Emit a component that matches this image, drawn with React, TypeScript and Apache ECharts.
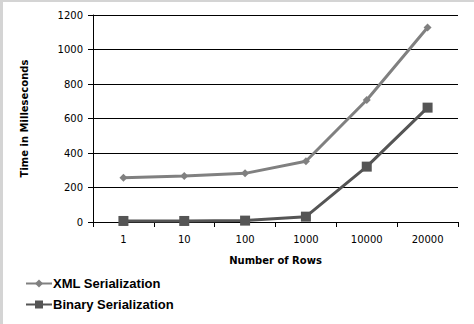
import React, { useEffect, useRef } from "react";
import * as echarts from "echarts";

const categories = ["1", "10", "100", "1000", "10000", "20000"];
const xmlValues = [257, 267, 282, 352, 707, 1128];
const binaryValues = [6, 6, 8, 31, 321, 663];
const yTicks = [0, 200, 400, 600, 800, 1000, 1200];

export default function App() {
  const ref = useRef<HTMLDivElement>(null);
  useEffect(() => {
    const chart = echarts.init(ref.current!, null, { renderer: "svg" });
    chart.setOption({
      animation: false,
      backgroundColor: "#ffffff",
      textStyle: { fontFamily: "DejaVu Sans" },
      graphic: [
        { type: "rect", left: 0, top: 0, shape: { width: 3, height: 324 }, style: { fill: "#d4d4d4" } },
        { type: "rect", left: 0, top: 0, shape: { width: 474, height: 2 }, style: { fill: "#d4d4d4" } },
      ],
      grid: { left: 93, right: 16, top: 15, bottom: 102 },
      legend: {
        orient: "vertical",
        left: 20,
        top: 272,
        itemWidth: 26,
        itemHeight: 10,
        itemGap: 8,
        textStyle: {
          fontFamily: "Liberation Sans",
          fontWeight: "bold",
          fontSize: 13,
          color: "#000",
          padding: [0, 0, 0, -4],
        },
        data: ["XML Serialization", "Binary Serialization"],
      },
      xAxis: {
        type: "category",
        data: categories,
        boundaryGap: true,
        name: "Number of Rows",
        nameLocation: "middle",
        nameGap: 33,
        nameTextStyle: { fontWeight: "bold", fontSize: 10, color: "#000" },
        axisLine: { lineStyle: { color: "#000", width: 1 } },
        axisTick: { show: true, length: 5, alignWithLabel: false, lineStyle: { color: "#000" } },
        axisLabel: { color: "#000", fontSize: 10, margin: 12 },
      },
      yAxis: {
        type: "value",
        min: yTicks[0],
        max: yTicks[yTicks.length - 1],
        interval: 200,
        name: "Time in Milleseconds",
        nameLocation: "middle",
        nameGap: 64,
        nameTextStyle: { fontWeight: "bold", fontSize: 10, color: "#000" },
        axisLine: { show: true, lineStyle: { color: "#000", width: 1 } },
        axisTick: { show: true, length: 5, lineStyle: { color: "#000" } },
        axisLabel: { color: "#000", fontSize: 10, margin: 10, formatter: (v: number) => String(v) },
        splitLine: { show: true, lineStyle: { color: "#000", width: 1 } },
      },
      series: [
        {
          name: "XML Serialization",
          type: "line",
          data: xmlValues,
          symbol: "diamond",
          symbolSize: 8,
          lineStyle: { color: "#808080", width: 3 },
          itemStyle: { color: "#808080" },
        },
        {
          name: "Binary Serialization",
          type: "line",
          data: binaryValues,
          symbol: "rect",
          symbolSize: 10,
          lineStyle: { color: "#555555", width: 3 },
          itemStyle: { color: "#555555" },
        },
      ],
    });
    return () => chart.dispose();
  }, []);
  return <div ref={ref} style={{ position: "fixed", left: 0, top: 0, width: 474, height: 324 }} />;
}
